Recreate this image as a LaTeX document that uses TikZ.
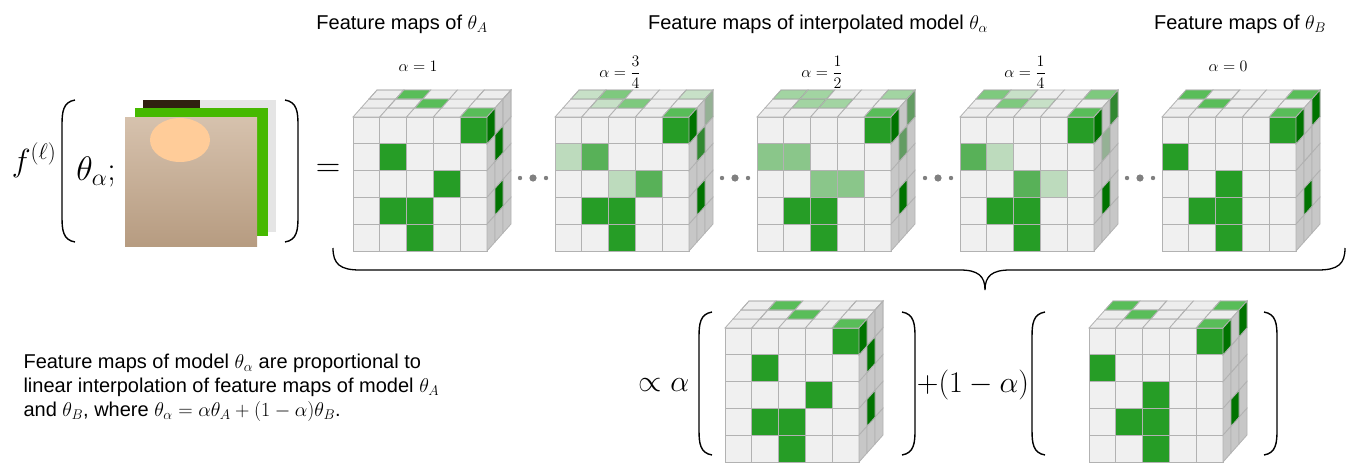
\RequirePackage{fix-cm}
\documentclass[tikz,border=0pt]{standalone}
\usepackage{fontspec}
\setmainfont{Liberation Sans}
\begin{document}
\begin{tikzpicture}[x=1pt,y=-1pt,
  cl/.style={draw=black!30,line width=0.8pt},
  gfront/.style={fill=green!55!black!85,draw=black!30,line width=0.8pt},
  gtop/.style={fill=green!60!black!65,draw=black!30,line width=0.8pt},
  gside/.style={fill=green!45!black,draw=black!30,line width=0.8pt},
  par/.style={line width=1.4pt},
  lab/.style={font=\fontsize{20}{24}\selectfont},
  alab/.style={font=\fontsize{16}{20}\selectfont},
  dotS/.style={fill=black!50},
]
\useasboundingbox (0,0) rectangle (1359,464);
\def\cs{26.8}
\newcommand\fmcube[3]{%
 \begin{scope}[shift={(#1,#2)}]
 \foreach \r in {0,...,4}{\foreach \c in {0,...,4}{
   \filldraw[cl,fill=black!6] ({\c*\cs},{\r*\cs}) rectangle ++(\cs,\cs);}}
 \foreach \z in {0,1,2}{\foreach \c in {0,...,4}{
   \filldraw[cl,fill=black!7] ({\c*\cs+\z*8},{-\z*9}) -- ++(\cs,0) -- ++(8,-9) -- ++(-\cs,0) -- cycle;}}
 \foreach \z in {0,1,2}{\foreach \r in {0,...,4}{
   \filldraw[cl,fill=black!22] ({5*\cs+\z*8},{\r*\cs-\z*9}) -- ++(8,-9) -- ++(0,\cs) -- ++(-8,9) -- cycle;}}
 \foreach \r/\c/\o in {0/4/1,3/1/1,3/2/1,4/2/1,1/1/#3,2/3/#3,1/0/{1-#3},2/2/{1-#3}}{
   \filldraw[gfront,fill opacity=\o] ({\c*\cs},{\r*\cs}) rectangle ++(\cs,\cs);}
 \foreach \z/\c/\o in {0/4/1,1/2/#3,2/1/#3,1/1/{1-#3},2/0/{1-#3},2/4/{1-#3}}{
   \filldraw[gtop,fill opacity=\o] ({\c*\cs+\z*8},{-\z*9}) -- ++(\cs,0) -- ++(8,-9) -- ++(-\cs,0) -- cycle;}
 \foreach \r/\z/\o in {0/0/1,3/1/1,1/1/#3,0/2/{1-#3}}{
   \filldraw[gside,fill opacity=\o] ({5*\cs+\z*8},{\r*\cs-\z*9}) -- ++(8,-9) -- ++(0,\cs) -- ++(-8,9) -- cycle;}
 \end{scope}}
\newcommand\dotsat[1]{%
 \fill[dotS] (#1-35,178) circle (2.2); \fill[dotS] (#1-22,178) circle (3.6); \fill[dotS] (#1-9,178) circle (2.2);}
\newcommand\lparen[3]{\draw[par] (#1,#2) .. controls ({#1-12},{#2+2}) and ({#1-13},{#2+12}) .. ({#1-13},{#2+25}) -- ({#1-13},{#3-25}) .. controls ({#1-13},{#3-12}) and ({#1-12},{#3-2}) .. (#1,#3);}
\newcommand\rparen[3]{\draw[par] (#1,#2) .. controls ({#1+12},{#2+2}) and ({#1+13},{#2+12}) .. ({#1+13},{#2+25}) -- ({#1+13},{#3-25}) .. controls ({#1+13},{#3-12}) and ({#1+12},{#3-2}) .. (#1,#3);}

\node[lab] (hA) at (402,24) {Feature maps of $\theta_A$};
\node[lab] (hI) at (818,24) {Feature maps of interpolated model $\theta_\alpha$};
\node[lab] (hB) at (1240,24) {Feature maps of $\theta_B$};
\node[alab] (a1) at (418,66) {$\alpha=1$};
\node[alab] (a2) at (620,72) {$\displaystyle\alpha=\frac{3}{4}$};
\node[alab] (a3) at (822,72) {$\displaystyle\alpha=\frac{1}{2}$};
\node[alab] (a4) at (1025,72) {$\displaystyle\alpha=\frac{1}{4}$};
\node[alab] (a5) at (1228,66) {$\alpha=0$};

\fmcube{353}{117}{1}
\fmcube{555}{117}{0.75}
\fmcube{757}{117}{0.5}
\fmcube{960}{117}{0.25}
\fmcube{1162}{117}{0}
\dotsat{555}\dotsat{757}\dotsat{960}\dotsat{1162}

\node[font=\fontsize{32}{36}\selectfont] (f) at (34,160) {$f^{(\ell)}$};
\node[font=\fontsize{34}{38}\selectfont] (th) at (96,172) {$\theta_\alpha;$};
\lparen{75}{100}{242}
\rparen{285}{100}{242}
\fill[black!75!brown] (143,100) rectangle (276,232);
\fill[black!10] (200,100) rectangle (276,232);
\fill[green!45!olive] (135,108) rectangle (268,236);
\shade[top color=black!20!brown!40, bottom color=brown!70!black!60] (125,117) rectangle (257,246);
\fill[orange!40!white] (180,140) ellipse (30 and 22);
\node[font=\fontsize{34}{38}\selectfont] (eq) at (328,170) {$=$};

\draw[line width=1.3pt] (333,248) .. controls (333,264) and (340,270) .. (360,270) -- (960,270) .. controls (978,270) and (985,276) .. (985,290) .. controls (985,276) and (992,270) .. (1010,270) -- (1318,270) .. controls (1338,270) and (1345,264) .. (1345,248);

\node[lab,anchor=west,align=left] (txt) at (20,388) {Feature maps of model $\theta_\alpha$ are proportional to\\linear interpolation of feature maps of model $\theta_A$\\and $\theta_B$, where $\theta_\alpha=\alpha\theta_A+(1-\alpha)\theta_B$.};
\node[font=\fontsize{30}{34}\selectfont] (pa) at (664,385) {$\propto\alpha$};
\lparen{712}{312}{455}
\fmcube{725}{328}{1}
\rparen{902}{312}{455}
\node[font=\fontsize{30}{34}\selectfont] (pb) at (973,385) {$+(1-\alpha)$};
\lparen{1045}{312}{455}
\fmcube{1089}{328}{0}
\rparen{1264}{312}{455}
\end{tikzpicture}
\end{document}
